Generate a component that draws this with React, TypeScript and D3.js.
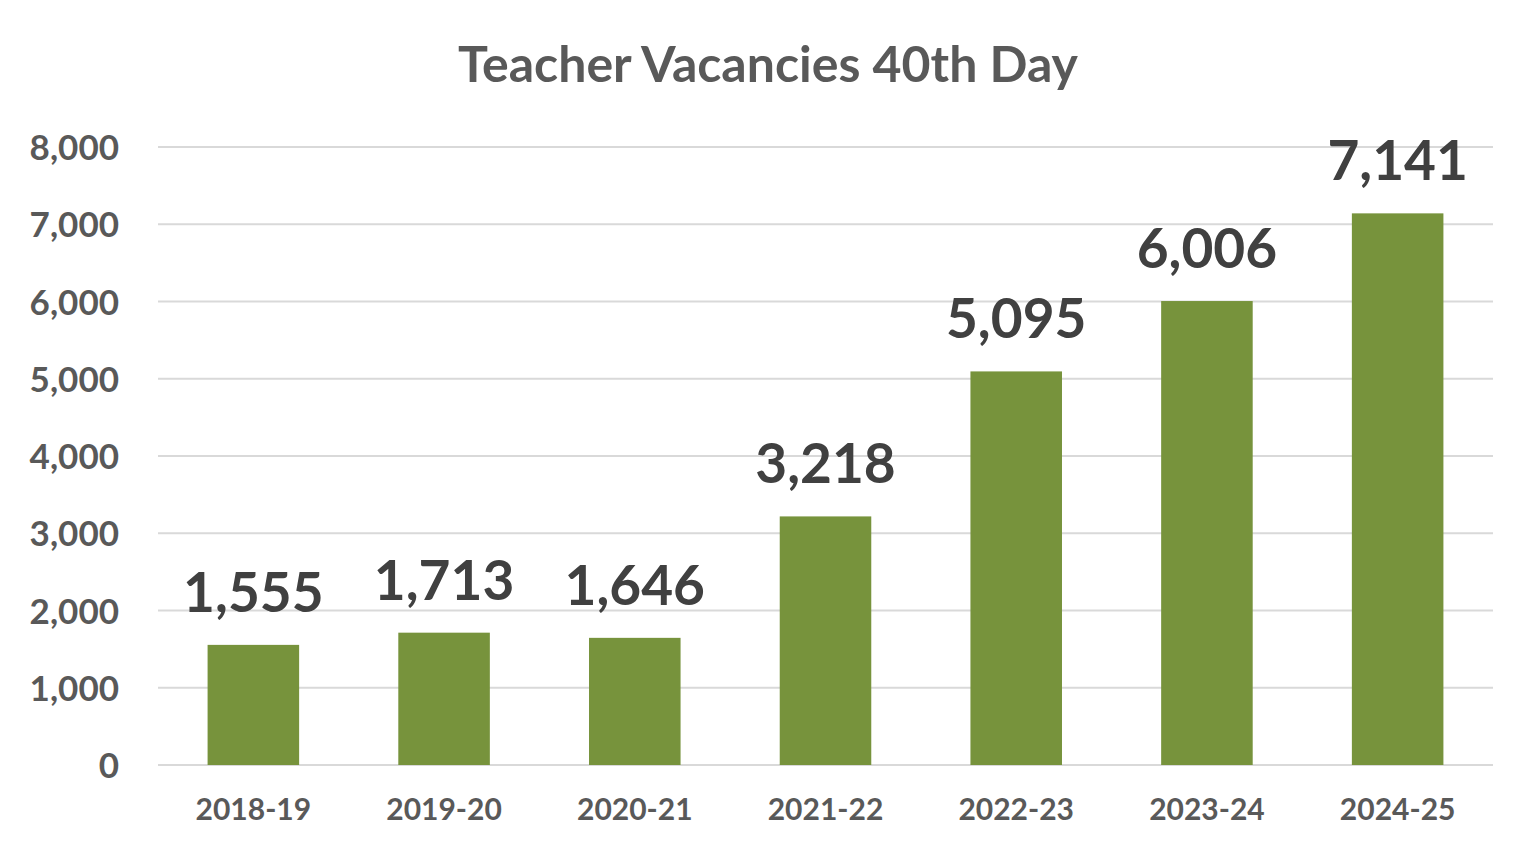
import React from 'react';
import * as d3 from 'd3';

const years = ['2018-19', '2019-20', '2020-21', '2021-22', '2022-23', '2023-24', '2024-25'];
const vacancies = [1555, 1713, 1646, 3218, 5095, 6006, 7141];
const yTicks = [0, 1000, 2000, 3000, 4000, 5000, 6000, 7000, 8000];

const W = 1536;
const H = 855;
const FONT = 'Lato, "Open Sans", sans-serif';

const App: React.FC = () => {
  const x = d3.scaleBand<string>()
    .domain(years)
    .range([158, 1493])
    .paddingInner(0.52)
    .paddingOuter(0.26);

  const y = d3.scaleLinear().domain([0, 8000]).range([765, 147]);
  const fmt = d3.format(',');

  return (
    <div style={{ position: 'absolute', left: 0, top: 0 }}>
      <svg width={W} height={H} style={{ display: 'block', background: '#fff' }}>
        {/* Title */}
        <text
          x={768}
          y={82}
          textAnchor="middle"
          fontFamily={FONT}
          fontWeight="bold"
          fontSize={50}
          fill="#595959"
        >
          Teacher Vacancies 40th Day
        </text>

        {/* Gridlines + y ticks */}
        {yTicks.map((t) => (
          <g key={t}>
            <line x1={158} x2={1493} y1={y(t)} y2={y(t)} stroke="#d9d9d9" strokeWidth={2} />
            <text
              x={119}
              y={y(t) + 13}
              textAnchor="end"
              fontFamily={FONT}
              fontWeight="bold"
              fontSize={35}
              fill="#595959"
            >
              {fmt(t)}
            </text>
          </g>
        ))}

        {/* Bars */}
        {years.map((yr, i) => (
          <rect
            key={yr}
            x={x(yr)}
            y={y(vacancies[i])}
            width={x.bandwidth()}
            height={y(0) - y(vacancies[i])}
            fill="#77933c"
          />
        ))}

        {/* Data labels */}
        {years.map((yr, i) => (
          <text
            key={yr}
            x={(x(yr) ?? 0) + x.bandwidth() / 2}
            y={y(vacancies[i]) - 33}
            textAnchor="middle"
            fontFamily={FONT}
            fontWeight="bold"
            fontSize={55}
            fill="#404040"
          >
            {fmt(vacancies[i])}
          </text>
        ))}

        {/* Category labels */}
        {years.map((yr) => (
          <text
            key={yr}
            x={(x(yr) ?? 0) + x.bandwidth() / 2}
            y={820}
            textAnchor="middle"
            fontFamily={FONT}
            fontWeight="bold"
            fontSize={30}
            fill="#595959"
          >
            {yr}
          </text>
        ))}
      </svg>
    </div>
  );
};

export default App;
